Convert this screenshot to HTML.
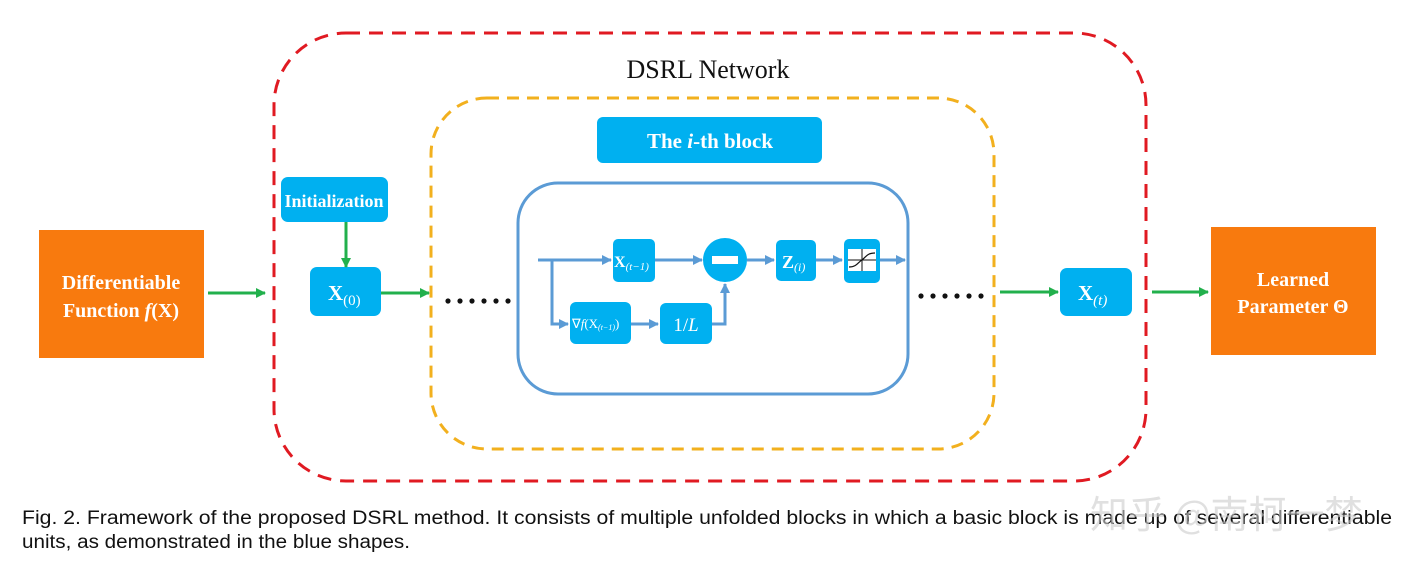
<!DOCTYPE html>
<html><head><meta charset="utf-8"><style>
html,body{margin:0;padding:0;background:#fff;}
svg{display:block}
.s{font-family:"Liberation Serif",serif;font-weight:bold;fill:#fff}
.cap{font-family:"Liberation Sans",sans-serif;font-size:19px;fill:#111}
</style></head><body>
<svg width="1428" height="570" viewBox="0 0 1428 570" xmlns="http://www.w3.org/2000/svg">
<defs>
<marker id="g" markerWidth="10" markerHeight="10" refX="9" refY="5" orient="auto" markerUnits="userSpaceOnUse"><path d="M0,0 L10,5 L0,10 z" fill="#22B04C"/></marker>
<marker id="b" markerWidth="10" markerHeight="10" refX="9" refY="5" orient="auto" markerUnits="userSpaceOnUse"><path d="M0,0 L10,5 L0,10 z" fill="#5B9BD5"/></marker>
</defs>
<rect x="274" y="33" width="872" height="448" rx="72" fill="none" stroke="#E01A22" stroke-width="3" stroke-dasharray="14,9"/>
<text x="708" y="78" text-anchor="middle" font-family="Liberation Serif,serif" font-size="26" fill="#111">DSRL Network</text>
<rect x="431" y="98" width="563" height="351" rx="56" fill="none" stroke="#F2B01E" stroke-width="3" stroke-dasharray="12,8"/>
<rect x="597" y="117" width="225" height="46" rx="6" fill="#00B0F0"/>
<text x="710" y="148" text-anchor="middle" class="s" font-size="21">The <tspan font-style="italic">i</tspan>-th block</text>
<rect x="518" y="183" width="390" height="211" rx="40" fill="none" stroke="#5B9BD5" stroke-width="3"/>
<rect x="39" y="230" width="165" height="128" fill="#F87A0E"/>
<text x="121" y="289" text-anchor="middle" class="s" font-size="20">Differentiable</text>
<text x="121" y="317" text-anchor="middle" class="s" font-size="20">Function <tspan font-style="italic">f</tspan>(X)</text>
<rect x="281" y="177" width="107" height="45" rx="7" fill="#00B0F0"/>
<text x="334" y="207" text-anchor="middle" class="s" font-size="18">Initialization</text>
<rect x="310" y="267" width="71" height="49" rx="7" fill="#00B0F0"/>
<text x="328" y="300" class="s" font-size="21">X<tspan font-size="15" dy="5" font-weight="normal">(0)</tspan></text>
<line x1="208" y1="293" x2="265" y2="293" stroke="#22B04C" stroke-width="3" marker-end="url(#g)"/>
<line x1="346" y1="222" x2="346" y2="267" stroke="#22B04C" stroke-width="3" marker-end="url(#g)"/>
<line x1="381" y1="293" x2="429" y2="293" stroke="#22B04C" stroke-width="3" marker-end="url(#g)"/>
<g fill="#111">
<circle cx="448" cy="301" r="2.6"/><circle cx="460" cy="301" r="2.6"/><circle cx="472" cy="301" r="2.6"/><circle cx="484" cy="301" r="2.6"/><circle cx="496" cy="301" r="2.6"/><circle cx="508" cy="301" r="2.6"/>
<circle cx="921" cy="296" r="2.6"/><circle cx="933" cy="296" r="2.6"/><circle cx="945" cy="296" r="2.6"/><circle cx="957" cy="296" r="2.6"/><circle cx="969" cy="296" r="2.6"/><circle cx="981" cy="296" r="2.6"/>
</g>
<g stroke="#5B9BD5" stroke-width="3" fill="none">
<line x1="538" y1="260" x2="611" y2="260" marker-end="url(#b)"/>
<polyline points="552,260 552,324 568,324" marker-end="url(#b)"/>
<line x1="655" y1="260" x2="702" y2="260" marker-end="url(#b)"/>
<line x1="747" y1="260" x2="774" y2="260" marker-end="url(#b)"/>
<line x1="816" y1="260" x2="842" y2="260" marker-end="url(#b)"/>
<line x1="880" y1="260" x2="905" y2="260" marker-end="url(#b)"/>
<line x1="631" y1="324" x2="658" y2="324" marker-end="url(#b)"/>
<polyline points="712,324 725,324 725,284" marker-end="url(#b)"/>
</g>
<rect x="613" y="239" width="42" height="43" rx="5" fill="#00B0F0"/>
<text x="614" y="267" class="s" font-size="16">X<tspan font-size="11" dy="3" font-style="italic" font-weight="normal">(t−1)</tspan></text>
<circle cx="725" cy="260" r="22" fill="#00B0F0"/>
<rect x="712" y="256" width="26" height="8" fill="#fff"/>
<rect x="776" y="240" width="40" height="41" rx="5" fill="#00B0F0"/>
<text x="782" y="268" class="s" font-size="18">Z<tspan font-size="12" dy="3" font-style="italic" font-weight="normal">(i)</tspan></text>
<rect x="844" y="239" width="36" height="44" rx="5" fill="#00B0F0"/>
<rect x="848" y="249" width="28" height="22" fill="#fff"/>
<line x1="862" y1="249" x2="862" y2="271" stroke="#111" stroke-width="1"/>
<line x1="848" y1="260" x2="876" y2="260" stroke="#111" stroke-width="1"/>
<path d="M849,267 C857,267 858,262 862,260 C866,257 867,253 875,253" stroke="#111" stroke-width="1.2" fill="none"/>
<rect x="570" y="302" width="61" height="42" rx="6" fill="#00B0F0"/>
<text x="572" y="328" font-family="Liberation Serif,serif" font-size="13" fill="#fff">∇<tspan font-style="italic">f</tspan>(X<tspan font-size="8" dy="2" font-style="italic">(t−1)</tspan><tspan dy="-2">)</tspan></text>
<rect x="660" y="303" width="52" height="41" rx="6" fill="#00B0F0"/>
<text x="686" y="331" text-anchor="middle" font-family="Liberation Serif,serif" font-size="19" fill="#fff">1/<tspan font-style="italic">L</tspan></text>
<rect x="1060" y="268" width="72" height="48" rx="7" fill="#00B0F0"/>
<text x="1078" y="300" class="s" font-size="21">X<tspan font-size="15" dy="5" font-style="italic" font-weight="normal">(t)</tspan></text>
<line x1="1000" y1="292" x2="1058" y2="292" stroke="#22B04C" stroke-width="3" marker-end="url(#g)"/>
<line x1="1152" y1="292" x2="1208" y2="292" stroke="#22B04C" stroke-width="3" marker-end="url(#g)"/>
<rect x="1211" y="227" width="165" height="128" fill="#F87A0E"/>
<text x="1293" y="286" text-anchor="middle" class="s" font-size="20">Learned</text>
<text x="1293" y="313" text-anchor="middle" class="s" font-size="20">Parameter Θ</text>
<text x="22" y="524" class="cap" textLength="1370" lengthAdjust="spacingAndGlyphs">Fig. 2. Framework of the proposed DSRL method. It consists of multiple unfolded blocks in which a basic block is made up of several differentiable</text>
<text x="22" y="548" class="cap" textLength="388" lengthAdjust="spacingAndGlyphs">units, as demonstrated in the blue shapes.</text>
<text x="1090" y="528" font-family="Noto Sans CJK SC,sans-serif" font-size="38" fill="#ccc" opacity="0.6">知乎 @南柯一梦</text>
</svg>
</body></html>
